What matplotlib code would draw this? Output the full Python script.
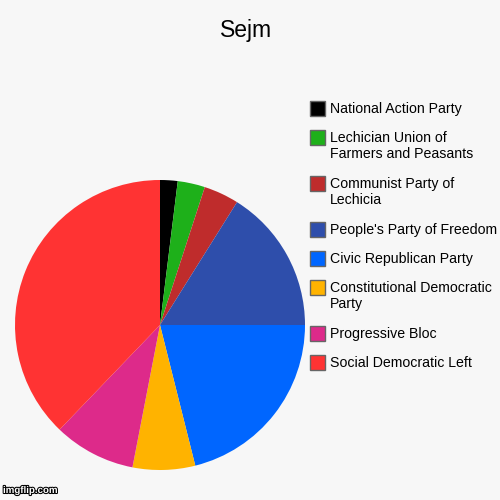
import matplotlib.pyplot as plt
import matplotlib.patheffects as pe
from matplotlib.patches import Rectangle

# ==============================
# Data (seats)
# ==============================
parties = [
    "National Action Party",
    "Lechician Union of\nFarmers and Peasants",
    "Communist Party of\nLechicia",
    "People's Party of Freedom",
    "Civic Republican Party",
    "Constitutional Democratic\nParty",
    "Progressive Bloc",
    "Social Democratic Left",
]
seats = [9, 14, 18, 74, 97, 32, 42, 174]
colors = ["#000000", "#1eb01a", "#bf2c2c", "#2e4eab",
          "#0066ff", "#ffb300", "#dd2a8a", "#ff3333"]

plt.rcParams['font.family'] = ['Liberation Sans', 'DejaVu Sans']
bg = "#f7f7f7"

fig = plt.figure(figsize=(5, 5), dpi=100, facecolor=bg)

# ==============================
# Pie
# ==============================
ax = fig.add_axes([0.03, 0.06, 0.58, 0.58])
ax.set_facecolor(bg)
ax.pie(seats, colors=colors, startangle=90, counterclock=False,
       radius=1, wedgeprops=dict(linewidth=0))
ax.set_xlim(-1, 1)
ax.set_ylim(-1, 1)
ax.set_aspect('equal')
ax.axis('off')

fig.text(246 / 500, 1 - 31 / 500, "Sejm", ha='center', va='center', fontsize=16.5)

# ==============================
# Legend (drawn by hand)
# ==============================
y = 108
for name, col in zip(parties, colors):
    fig.patches.append(Rectangle((310 / 500, 1 - (y + 8) / 500), 15 / 500, 15 / 500,
                                 transform=fig.transFigure, facecolor=col,
                                 edgecolor="#666666", linewidth=1))
    fig.text(330 / 500, 1 - (y - 6) / 500, name, ha='left', va='top',
             fontsize=10.2, linespacing=1.2)
    y += 46 if '\n' in name else 29

fig.text(0.006, 0.014, "imgflip.com", fontsize=7, color="white", fontweight='bold',
         path_effects=[pe.withStroke(linewidth=1.5, foreground="black")])

fig.savefig("out.png", dpi=100, facecolor=bg)
